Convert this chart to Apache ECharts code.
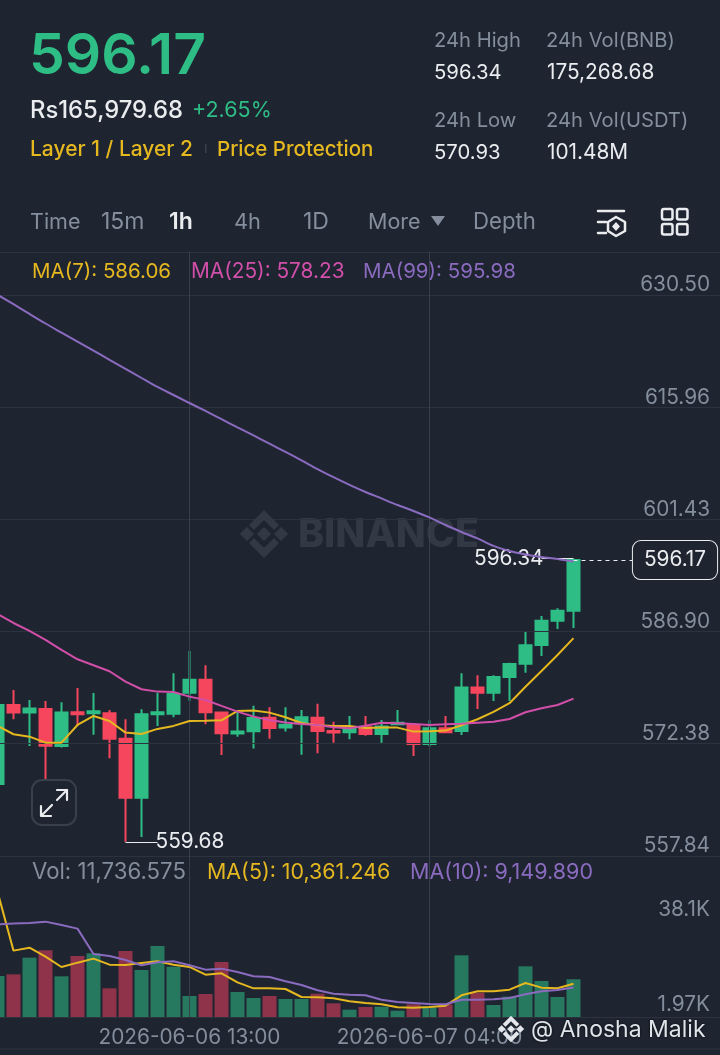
<!DOCTYPE html>
<html><head><meta charset="utf-8">
<style>html,body{margin:0;padding:0;background:#1e2430}#c{width:720px;height:1055px}</style>
<script src="https://cdn.jsdelivr.net/npm/echarts@6/dist/echarts.min.js"></script>
</head><body><div id="c"></div>
<script>
const categories = [
"2026-06-06 01:00","2026-06-06 02:00","2026-06-06 03:00","2026-06-06 04:00","2026-06-06 05:00","2026-06-06 06:00",
"2026-06-06 07:00","2026-06-06 08:00","2026-06-06 09:00","2026-06-06 10:00","2026-06-06 11:00","2026-06-06 12:00",
"2026-06-06 13:00","2026-06-06 14:00","2026-06-06 15:00","2026-06-06 16:00","2026-06-06 17:00","2026-06-06 18:00",
"2026-06-06 19:00","2026-06-06 20:00","2026-06-06 21:00","2026-06-06 22:00","2026-06-06 23:00","2026-06-07 00:00",
"2026-06-07 01:00","2026-06-07 02:00","2026-06-07 03:00","2026-06-07 04:00","2026-06-07 05:00","2026-06-07 06:00",
"2026-06-07 07:00","2026-06-07 08:00","2026-06-07 09:00","2026-06-07 10:00","2026-06-07 11:00","2026-06-07 12:00",
"2026-06-07 13:00","2026-06-07 14:00","2026-06-07 15:00","2026-06-07 16:00","2026-06-07 17:00","2026-06-07 18:00",
"2026-06-07 19:00","2026-06-07 20:00","2026-06-07 21:00","2026-06-07 22:00"];
// [open, close, low, high]
const candles = [
[567.17,577.40,567.00,577.60],[577.40,576.41,575.55,579.35],[576.41,576.93,572.10,578.05],[576.89,572.13,567.69,577.92],
[572.10,576.41,571.88,577.75],[576.46,576.20,574.69,579.61],[576.33,576.59,573.56,578.96],[576.33,573.04,570.50,576.76],
[573.04,565.40,559.68,575.55],[565.40,576.20,560.31,576.85],[576.20,576.46,574.69,579.00],[576.28,578.83,575.81,581.51],
[579.00,580.68,577.96,584.40],[580.68,576.46,574.91,582.55],[576.41,573.74,570.93,576.45],[573.69,573.95,573.30,576.54],
[574.00,575.72,571.75,577.31],[575.76,574.43,573.04,577.11],[574.47,574.85,573.95,577.11],[575.04,575.81,570.97,576.76],
[575.76,574.04,571.15,577.57],[574.04,573.82,572.52,575.24],[573.87,574.30,572.96,575.98],[574.52,573.65,573.43,575.98],
[573.65,574.60,572.52,575.46],[574.91,575.11,574.82,576.76],[574.82,572.35,570.80,575.07],[572.35,574.39,572.06,575.42],
[574.39,573.87,573.82,575.98],[574.04,579.65,573.52,581.51],[579.65,579.00,576.89,581.25],[579.00,581.03,577.92,581.25],
[581.03,582.71,577.92,582.88],[582.75,585.14,581.59,586.95],[585.18,588.32,583.75,588.93],[588.32,589.62,587.25,589.93],
[589.62,596.17,587.38,596.34]];
const ma7 = [574.69,573.61,573.30,572.52,572.52,574.81,575.98,575.33,573.82,573.65,574.30,574.69,575.33,575.37,575.42,576.63,576.67,576.41,575.81,575.07,574.78,574.69,574.69,574.43,574.47,574.47,573.95,574.00,574.08,574.78,575.55,576.50,577.63,579.77,581.81,583.88,586.06];
const ma25 = [589.19,588.02,586.99,585.82,584.53,583.32,582.55,581.77,580.42,579.44,579.13,579.09,578.48,578.05,577.28,576.54,575.89,575.46,575.14,574.94,574.81,574.52,574.39,574.72,575.11,575.03,574.94,574.81,574.91,574.98,575.11,575.24,575.59,576.46,576.98,577.40,578.23];
const ma99 = [630.53,629.31,628.05,626.81,625.63,624.45,623.29,622.11,620.93,619.75,618.59,617.55,616.51,615.48,614.42,613.35,612.31,611.24,610.18,609.09,607.95,606.90,605.91,604.99,604.15,603.30,602.53,601.69,600.71,599.81,598.97,598.00,597.35,596.90,596.57,596.31,595.98];
const volumes = [12755,13270,18460,20740,12650,18980,19810,8920,20530,14620,22090,15660,6530,7160,17110,7780,5910,6530,5600,5600,7260,4250,2280,3110,3210,1970,3940,3010,3940,19180,7570,3730,6330,15760,11200,6220,11736.575];
const volMa5 = [38990,20640,21570,18770,15560,16900,18150,16280,16180,16800,17320,16280,15560,13170,13580,10780,8920,8920,8710,6220,6120,5810,4870,4360,3940,3010,2900,3110,3530,6740,7990,7990,8500,10580,9130,8920,10361.246];
const volMa10 = [28830,29040,29240,29660,28620,27480,19600,18980,17730,16070,17010,17320,16070,14730,15040,14000,12650,12440,11100,9960,8300,7260,6950,6740,5390,4670,4360,4040,3940,5390,5390,5500,5910,7050,7990,8400,9149.89];
const priceTicks = [630.50,615.96,601.43,586.90,572.38,557.84];
const priceAxisMax = 636.07;
const volTickLabels = ["38.1K","1.97K"];
const volTickAt = [33290,3730];
const timeTickIdx = [12,27];
const lastPrice = 596.17, highPrice = 596.34, lowPrice = 559.68;

const BG='#1e2430',GRID='#2d333e',VLINE='#3a404b',GREEN='#2ebd85',RED='#f6465d',VGREEN='#26785f',VRED='#8e3349',
      YEL='#e5b820',PINK='#d24fa9',PUR='#8a6bbf',GREY='#848e9c',WHITE='#eaecef';
const F='Inter, "Noto Sans", sans-serif';
const T=(text,x,y,fill,size,weight,z)=>({type:'text',z:z||100,style:{text,x,y:y+1.5,fill,font:`${weight||400} ${size}px ${F}`,textAlign:'left',textVerticalAlign:'middle',verticalAlign:'middle'}});
const L=(pts,stroke,lw,z)=>({type:'polyline',z:z||100,shape:{points:pts},style:{stroke,lineWidth:lw,fill:null,lineCap:'round',lineJoin:'round'}});
const P=(pts,fill,z)=>({type:'polygon',z:z||100,shape:{points:pts},style:{fill}});
function logo(cx,cy,s,fill,z){
  const m=p=>p.map(([a,b])=>[cx+a*s,cy+b*s]);
  return [
    [[0,-7],[7,0],[0,7],[-7,0]],
    [[-17,-7],[-10,0],[-17,7],[-24,0]],
    [[17,-7],[24,0],[17,7],[10,0]],
    [[0,-24],[15,-9],[10,-4],[0,-14],[-10,-4],[-15,-9]],
    [[0,24],[15,9],[10,4],[0,14],[-10,4],[-15,9]]
  ].map(p=>P(m(p),fill,z));
}
const rr=(x,y,w,h,r,stroke,lw)=>({type:'rect',z:100,shape:{x,y,width:w,height:h,r},style:{stroke,lineWidth:lw,fill:null}});

const graphics=[
  T('596.17',29,55.5,GREEN,57,600),
  T('Rs165,979.68',30,109.5,WHITE,23.8,500),
  T('+2.65%',192,109.5,GREEN,21.5,400),
  T('Layer 1 / Layer 2',30,148,YEL,21,500),
  {type:'rect',z:100,shape:{x:205,y:144,width:1.5,height:9},style:{fill:'#3a404b'}},
  T('Price Protection',217,148,YEL,20.5,500),
  T('24h High',434,39,GREY,20.2),T('24h Vol(BNB)',546,39,GREY,20.2),
  T('596.34',434,71,WHITE,20.3),T('175,268.68',547,71,WHITE,20.8),
  T('24h Low',434,119,GREY,20.2),T('24h Vol(USDT)',546,119,GREY,20.2),
  T('570.93',434,151,WHITE,20.3),T('101.48M',547,151,WHITE,20.8),
  T('Time',30,221,GREY,21.5),T('15m',101,221,GREY,23),T('1h',169,221,WHITE,23,600),T('4h',234,221,GREY,21.8),
  T('1D',303,221,GREY,23),T('More',368,221,GREY,21.5),T('Depth',473,221,GREY,22.2),
  P([[431,216],[445,216],[438,226]],GREY),
  L([[598,211],[624,211]],WHITE,2.5),L([[598,222],[606,222]],WHITE,2.5),L([[598,233],[606,233]],WHITE,2.5),
  L([[616,217],[625,222],[625,231],[616,236],[608,231],[608,222],[616,217]],WHITE,2.5),
  P([[616,222],[620,226.5],[616,231],[612,226.5]],WHITE),
  rr(662,209,10.5,10.5,2,WHITE,2.5),rr(677,209,10.5,10.5,2,WHITE,2.5),rr(662,224,10.5,10.5,2,WHITE,2.5),rr(677,224,10.5,10.5,2,WHITE,2.5),
  {type:'line',z:1,shape:{x1:0,y1:1049,x2:720,y2:1049},style:{stroke:GRID,lineWidth:1}},
  T(`MA(7): ${ma7[ma7.length-1].toFixed(2)}`,32,270,YEL,20.5),
  T(`MA(25): ${ma25[ma25.length-1].toFixed(2)}`,191,270,PINK,20.8),
  T(`MA(99): ${ma99[ma99.length-1].toFixed(2)}`,363,270,PUR,20.5),
  T('Vol: 11,736.575',32,871,GREY,22.2),
  T('MA(5): 10,361.246',207,871,YEL,21.4),
  T('MA(10): 9,149.890',410,871,PUR,21.5),
  rr(32,780,44,45,10,'#3a404b',2),
  L([[42,815],[52,805]],WHITE,2.2),L([[41,806],[41,816],[51,816]],WHITE,2.2),
  L([[57,800],[67,790]],WHITE,2.2),L([[57,790],[67,790],[67,800]],WHITE,2.2),
  {type:'text',z:0,style:{text:'BINANCE',x:298,y:535,fill:'#323945',font:`800 39.3px ${F}`,textAlign:'left',textVerticalAlign:'middle',verticalAlign:'middle'}},
  ...logo(264,534,1,'#323945',0),
  ...logo(511,1029,0.55,'#e4e7ec',110),
  {type:'text',z:110,style:{text:'@ Anosha Malik',x:531,y:1030,fill:'#dfe3ea',font:`400 23px ${F}`,textAlign:'left',textVerticalAlign:'middle',verticalAlign:'middle',textShadowColor:'#000',textShadowBlur:2}}
];

const lineS=(name,data,color,xi,yi,smooth)=>({name,type:'line',data,xAxisIndex:xi,yAxisIndex:yi,showSymbol:false,symbol:'none',smooth:smooth||false,z:5,
  lineStyle:{color,width:2},itemStyle:{color},silent:true});
const noSym=['none','none'];
const option={
  animation:false,backgroundColor:BG,graphic:{elements:graphics},
  grid:[{left:-10.5,width:736,top:252,height:604,outerBoundsMode:'none',containLabel:false},{left:-10.5,width:736,top:856,height:161,outerBoundsMode:'none',containLabel:false}],
  xAxis:[
    {type:'category',gridIndex:0,data:categories,axisLine:{show:false},axisTick:{show:false},axisLabel:{show:false},splitLine:{show:false}},
    {type:'category',gridIndex:1,data:categories,axisLine:{show:true,lineStyle:{color:GRID}},axisTick:{show:false},splitLine:{show:false},
      axisLabel:{color:GREY,fontSize:20.8,fontFamily:F,margin:10,hideOverlap:false,interval:(i)=>timeTickIdx.includes(i)}}
  ],
  yAxis:[
    {type:'value',gridIndex:0,position:'right',min:priceTicks[5],max:priceAxisMax,scale:true,axisLine:{show:false},axisTick:{show:false},splitLine:{show:false},
      axisLabel:{inside:true,margin:15.5,customValues:priceTicks,formatter:v=>v.toFixed(2),color:GREY,fontSize:20.8,fontFamily:F,verticalAlign:'bottom',lineHeight:20,align:'right'}},
    {type:'value',gridIndex:1,position:'right',min:0,max:50071,axisLine:{show:false},axisTick:{show:false},splitLine:{show:false},
      axisLabel:{inside:true,margin:15.5,customValues:volTickAt,formatter:v=>volTickLabels[volTickAt.indexOf(v)],color:GREY,fontSize:20.8,fontFamily:F,verticalAlign:'middle',align:'right'}}
  ],
  series:[
    {type:'line',name:'priceGrid',xAxisIndex:0,yAxisIndex:0,data:[],z:1,silent:true,
      markLine:{silent:true,symbol:noSym,animation:false,label:{show:false},
        data:[
          ...[...priceTicks,priceAxisMax].map(v=>({yAxis:v,lineStyle:{color:GRID,width:1,type:'solid'}})),
          ...timeTickIdx.map(i=>({xAxis:categories[i],lineStyle:{color:VLINE,width:1,type:'solid'}})),
          [{coord:[categories[36],lastPrice],lineStyle:{color:WHITE,width:1,type:[4,4]}},{coord:[categories[41],lastPrice]}]
        ]}},
    {type:'line',name:'volGrid',xAxisIndex:1,yAxisIndex:1,data:[],z:1,silent:true,
      markLine:{silent:true,symbol:noSym,animation:false,label:{show:false},
        data:timeTickIdx.map(i=>({xAxis:categories[i],lineStyle:{color:VLINE,width:1,type:'solid'}}))}},
    {type:'candlestick',name:'BNB/USDT',xAxisIndex:0,yAxisIndex:0,z:3,barWidth:12.5,data:candles,silent:true,
      itemStyle:{color:GREEN,color0:RED,borderColor:GREEN,borderColor0:RED,borderWidth:2},
      markLine:{silent:true,symbol:noSym,animation:false,lineStyle:{color:WHITE,width:1,type:'solid'},
        label:{show:true,position:'end',color:WHITE,fontSize:20.8,fontFamily:F,distance:-2,padding:[5,0,0,0],formatter:p=>p.data.txt||''},
        data:[
          [{coord:[categories[8],lowPrice],txt:lowPrice.toFixed(2)},{coord:[categories[10],lowPrice],txt:lowPrice.toFixed(2)}],
          [{coord:[categories[36],highPrice],txt:highPrice.toFixed(2)},{coord:[categories[34],highPrice],txt:highPrice.toFixed(2)}]
        ]},
      markPoint:{silent:true,animation:false,symbol:'circle',symbolSize:0,
        data:[{coord:[categories[42],lastPrice],value:lastPrice.toFixed(2),
          label:{show:true,position:'inside',offset:[5.5,0],formatter:lastPrice.toFixed(2),color:WHITE,fontSize:20.8,fontFamily:F,backgroundColor:BG,
            borderColor:WHITE,borderWidth:1,borderRadius:8,padding:[9,11,8,11]}}]}},
    lineS('MA7',ma7,YEL,0,0),lineS('MA25',ma25,PINK,0,0),lineS('MA99',ma99,PUR,0,0,0.3),
    {type:'bar',name:'Vol',xAxisIndex:1,yAxisIndex:1,barWidth:14,z:3,silent:true,
      data:volumes.map((v,i)=>({value:v,itemStyle:{color:candles[i][1]>=candles[i][0]?VGREEN:VRED}}))},
    lineS('VolMA5',volMa5,YEL,1,1),lineS('VolMA10',volMa10,PUR,1,1)
  ]
};
echarts.init(document.getElementById('c')).setOption(option);
</script></body></html>
